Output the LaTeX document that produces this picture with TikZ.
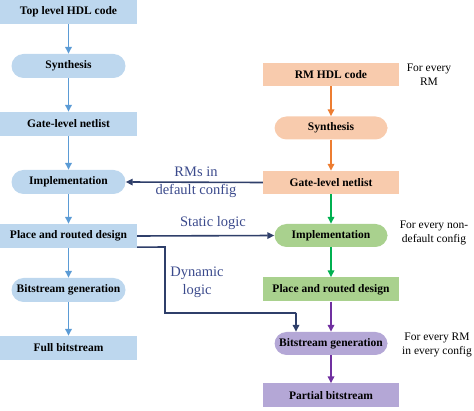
\documentclass[tikz,border=0pt]{standalone}
\usepackage{fontspec}
\setmainfont{Liberation Serif}
\usetikzlibrary{arrows.meta,calc}
\definecolor{bfill}{HTML}{BDD7EE}
\definecolor{bline}{HTML}{5B9BD5}
\definecolor{ofill}{HTML}{F8CBAD}
\definecolor{oline}{HTML}{ED7D31}
\definecolor{gfill}{HTML}{A9D18E}
\definecolor{gline}{HTML}{00B050}
\definecolor{pfill}{HTML}{B4A7D6}
\definecolor{pline}{HTML}{7030A0}
\definecolor{navy}{HTML}{2F3F6A}
\definecolor{lbl}{HTML}{3B4A8C}
\tikzset{
  rbox/.style={rectangle, minimum width=137pt, minimum height=24pt, inner sep=0pt, font=\fontsize{11.5}{12}\selectfont\bfseries},
  pill/.style={rectangle, rounded corners=12pt, minimum width=114pt, minimum height=24pt, inner sep=0pt, font=\fontsize{11.5}{12}\selectfont\bfseries},
  arr/.style={line width=1.6pt, -{Triangle[length=7pt,width=6.5pt]}},
  conn/.style={navy, line width=1.6pt},
  lab/.style={lbl, font=\fontsize{14.5}{18}\selectfont, align=center},
  note/.style={font=\fontsize{11.5}{14}\selectfont, align=center}
}
\begin{document}
\begin{tikzpicture}[x=1pt,y=-1pt]
\useasboundingbox (0,0) rectangle (474,411);
% left column
\node[rbox, fill=bfill] (ltop) at (68.5,12) {Top level HDL code};
\node[pill, fill=bfill] (lsyn) at (68.5,66) {Synthesis};
\node[rbox, fill=bfill] (lgate) at (68.5,124) {Gate-level netlist};
\node[pill, fill=bfill] (limpl) at (68.5,182) {Implementation};
\node[rbox, fill=bfill] (lplace) at (68.5,236) {Place and routed design};
\node[pill, fill=bfill] (lbits) at (68.5,290) {Bitstream generation};
\node[rbox, fill=bfill] (lfull) at (68.5,348) {Full bitstream};
\foreach \a/\b in {ltop/lsyn,lsyn/lgate,lgate/limpl,limpl/lplace,lplace/lbits,lbits/lfull}
  \draw[arr, bline] (\a.south) -- (\b.north);
% right column
\node[rbox, fill=ofill, minimum width=136pt, minimum height=23pt] (rhdl) at (331,74.5) {RM HDL code};
\node[pill, fill=ofill, minimum width=113pt, minimum height=23pt] (rsyn) at (331,128) {Synthesis};
\node[rbox, fill=ofill, minimum width=136pt, minimum height=23pt] (rgate) at (331,182.5) {Gate-level netlist};
\node[pill, fill=gfill, minimum width=113pt, minimum height=23pt] (rimpl) at (331,235.5) {Implementation};
\node[rbox, fill=gfill, minimum width=136pt, minimum height=24pt] (rplace) at (331,289.5) {Place and routed design};
\node[pill, fill=pfill, minimum width=113pt, minimum height=23pt] (rbits) at (331,343.5) {Bitstream generation};
\node[rbox, fill=pfill, minimum width=136pt, minimum height=24pt] (rpart) at (331,395.5) {Partial bitstream};
\draw[arr, oline] (rhdl.south) -- (rsyn.north);
\draw[arr, oline] (rsyn.south) -- (rgate.north);
\draw[arr, gline] (rgate.south) -- (rimpl.north);
\draw[arr, gline] (rimpl.south) -- (rplace.north);
\draw[arr, pline] (rplace.south) -- (rbits.north);
\draw[arr, pline] (rbits.south) -- (rpart.north);
% notes
\node[note] (n1) at (429,75) {For every\\RM};
\node[note] (n2) at (434,233) {For every non-\\default config};
\node[note] (n3) at (437,345) {For every RM\\in every config};
% connectors
\draw[conn, arr] (rgate.west) -- (limpl.east);
\node[lab] (labrm) at (196,182) {RMs in\\default config};
\draw[conn, arr] (lplace.east) -- (rimpl.west);
\node[lab] (labst) at (213,223) {Static logic};
\coordinate (d1) at (165,247);
\coordinate (d2) at (165,313);
\coordinate (d3) at (296,313);
\draw[conn] ($(lplace.south east)+(0,-1)$) -- (d1) -- (d2) -- (d3);
\draw[conn, arr] (d3) -- (d3 |- rbits.north);
\node[lab] (labdy) at (197,282) {Dynamic\\logic};
\end{tikzpicture}
\end{document}
